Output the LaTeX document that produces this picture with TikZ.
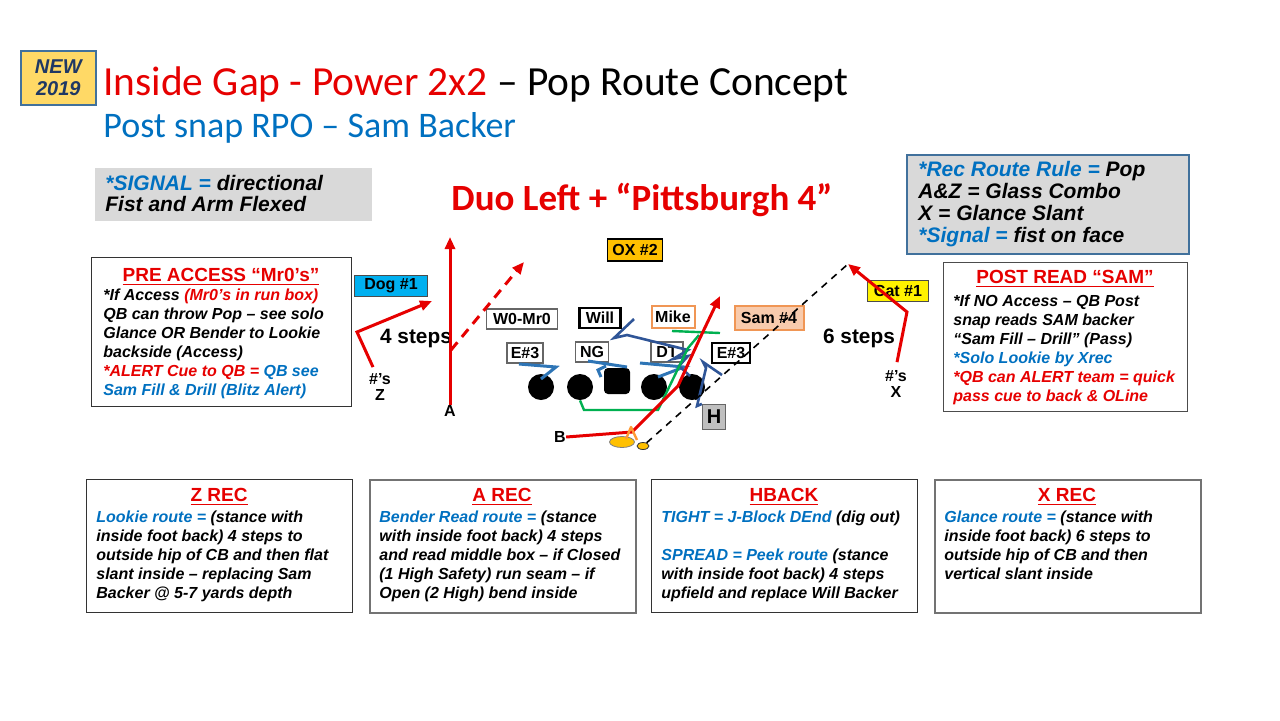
\documentclass[tikz,border=0pt]{standalone}
\usepackage{fontspec}
\setmainfont{Liberation Sans}
\newfontfamily\calibri{Carlito}
\usetikzlibrary{arrows.meta,positioning,shapes.geometric}

\definecolor{playred}{RGB}{230,0,0}
\definecolor{noteblue}{RGB}{0,112,192}
\definecolor{boxgray}{RGB}{217,217,217}
\definecolor{navy}{RGB}{31,56,100}
\definecolor{newgold}{RGB}{255,217,102}
\definecolor{steel}{RGB}{65,113,156}
\definecolor{blockblue}{RGB}{46,117,182}
\definecolor{zigblue}{RGB}{47,85,151}
\definecolor{pullgreen}{RGB}{0,176,80}
\definecolor{oxgold}{RGB}{255,192,0}
\definecolor{dogblue}{RGB}{0,176,240}
\definecolor{samorange}{RGB}{240,150,85}
\definecolor{samfill}{RGB}{248,203,173}

\tikzset{
  tag/.style={draw=black!60, line width=0.6pt, inner sep=0pt, font=\fontsize{8}{9}\selectfont\bfseries},
  lineman/.style={circle, fill=black, minimum size=13pt, inner sep=0pt},
  route/.style={draw=playred, line width=1.5pt, -{Triangle[length=6pt,width=5pt]}},
  blockmark/.style={draw=blockblue, line width=1.5pt},
  zigmark/.style={draw=zigblue, line width=1.3pt},
  notebox/.style={draw=black!80, line width=0.6pt, anchor=north west, inner sep=0pt, minimum width=133pt, minimum height=66.5pt},
  notetitle/.style={anchor=base, inner sep=0pt, text=playred, font=\fontsize{9.5}{11}\selectfont\bfseries},
  notebody/.style={anchor=north west, inner sep=0pt, align=left, font=\fontsize{8}{9.5}\selectfont\bfseries\itshape},
  tiplabel/.style={inner sep=0pt, align=center, font=\fontsize{8}{8}\selectfont\bfseries}
}

\begin{document}
\begin{tikzpicture}[x=0.5pt, y=-0.5pt]
\useasboundingbox (0,0) rectangle (1280,720);

% heading
\node[draw=steel, line width=0.8pt, fill=newgold, minimum width=37.5pt, minimum height=27pt, anchor=north west, inner sep=0pt,
  align=center, text=navy, font=\fontsize{10}{11}\selectfont\bfseries\itshape] (new) at (20,50) {NEW\\2019};
\node[anchor=base west, inner sep=0pt, font=\calibri\fontsize{20.7}{25}\selectfont] (title) at (103,95)
  {\textcolor{playred}{Inside Gap - Power 2x2} – Pop Route Concept};
\node[anchor=base west, inner sep=0pt, text=noteblue, font=\calibri\fontsize{18}{22}\selectfont] (subtitle) at (103,137)
  {Post snap RPO – Sam Backer};
\node[anchor=base, inner sep=0pt, text=playred, font=\calibri\bfseries\fontsize{18.5}{22}\selectfont] (call) at (642,210)
  {Duo Left + “Pittsburgh 4”};

% signal notes
\node[fill=boxgray, anchor=north west, inner sep=0pt, minimum width=138.5pt, minimum height=26.5pt] (signalbox) at (95,168) {};
\node[anchor=north west, inner sep=0pt, align=left, font=\fontsize{10.5}{10.5}\selectfont\bfseries\itshape] (signal) at (105,175)
  {\textcolor{noteblue}{*SIGNAL =} directional\\Fist and Arm Flexed};
\node[fill=boxgray, draw=steel, line width=0.8pt, anchor=north west, inner sep=0pt, minimum width=141pt, minimum height=49.5pt] (rulebox) at (906,154) {};
\node[anchor=north west, inner sep=0pt, align=left, font=\fontsize{10.5}{11}\selectfont\bfseries\itshape] (rule) at (918,161)
  {\textcolor{noteblue}{*Rec Route Rule =} Pop\\A\&Z = Glass Combo\\X = Glance Slant\\\textcolor{noteblue}{*Signal =} fist on face};

% pre / post read
\node[notebox, minimum width=130pt, minimum height=74.5pt] (prebox) at (91,257) {};
\node[notetitle] (pretitle) at (221,281) {\underline{PRE ACCESS “Mr0’s”}};
\node[notebody] (pre) at (103,288)
  {*If Access \textcolor{playred}{(Mr0’s in run box)}\\QB can throw Pop – see solo\\Glance OR Bender to Lookie\\backside (Access)\\
   \textcolor{playred}{*ALERT Cue to QB =} \textcolor{noteblue}{QB see}\\\textcolor{noteblue}{Sam Fill \& Drill (Blitz Alert)}};
\node[notebox, draw=black!70, minimum width=122pt, minimum height=74.5pt] (postbox) at (943,262) {};
\node[notetitle] (posttitle) at (1065,283) {\underline{POST READ “SAM”}};
\node[notebody] (post) at (953,294)
  {*If NO Access – QB Post\\snap reads SAM backer\\“Sam Fill – Drill” (Pass)\\\textcolor{noteblue}{*Solo Lookie by Xrec}\\
   \textcolor{playred}{*QB can ALERT team = quick}\\\textcolor{playred}{pass cue to back \& OLine}};

% defense
\node[tag, fill=oxgold, draw=black, minimum width=27.5pt, minimum height=11pt] (ox) at (635,250) {OX \#2};
\node[tag, fill=dogblue, draw=black!70, minimum width=36.5pt, minimum height=10.5pt] (dog) at (391,286) {Dog \#1\hspace{7pt}};
\node[tag, fill=yellow, draw=black!70, minimum width=30.5pt, minimum height=10.5pt] (cat) at (898,291) {Cat \#1};
\node[tag, fill=white, minimum width=35.5pt, minimum height=10pt] (wmr) at (522,319) {W0-Mr0};
\node[tag, draw=black, line width=1.2pt, fill=white, minimum width=20.5pt, minimum height=10pt] (will) at (600,318) {Will};
\node[tag, draw=samorange, line width=1pt, fill=white, minimum width=21.5pt, minimum height=11pt] (mike) at (673,317) {Mike};
\node[tag, draw=samorange, line width=1pt, fill=samfill, minimum width=34.5pt, minimum height=12pt] (sam) at (769,318) {Sam \#4};
\node[tag, fill=white, minimum width=18pt, minimum height=10pt] (endl) at (525,353) {E\#3};
\node[tag, fill=white, minimum width=16.5pt, minimum height=10pt] (ng) at (592,352) {NG};
\node[tag, fill=white, minimum width=16pt, minimum height=10pt] (dt) at (667,352) {DT};
\node[tag, draw=black, fill=white, minimum width=19pt, minimum height=10pt] (endr) at (731,353) {E\#3};

% offense
\node[lineman] (lt) at (541,387) {};
\node[lineman] (lg) at (580,387) {};
\node[fill=black, rounded corners=2pt, minimum size=13pt, inner sep=0pt] (ctr) at (617,381) {};
\node[lineman] (rg) at (654,387) {};
\node[lineman] (rt) at (692,387) {};
\node[tag, fill=black!25, minimum width=11.5pt, minimum height=12.5pt, font=\fontsize{10}{12}\selectfont\bfseries] (hback) at (714,417) {H};
\node[ellipse, fill=oxgold, draw=black!50, minimum width=12.5pt, minimum height=5.5pt, inner sep=0pt] (qb) at (622,442) {};
\node[ellipse, fill=oxgold, draw=black!80, minimum width=6pt, minimum height=3.5pt, inner sep=0pt] (ball) at (643,446) {};

\node[tiplabel] (zrec) at (380,387) {\#’s\\Z};
\node[tiplabel] (xrec) at (896,384) {\#’s\\X};
\node[tiplabel] (arec) at (450,411) {A};
\node[tiplabel] (bback) at (560,437) {B};
\node[font=\fontsize{10.4}{12}\selectfont\bfseries] (fourst) at (416,338) {4 steps};
\node[font=\fontsize{10.4}{12}\selectfont\bfseries] (sixst) at (859,338) {6 steps};

% blocks
\draw[blockmark] (519,364) -- (556,367) -- (541,379);
\draw[blockmark] (588,361) -- (627,367) (606,366) -- (598,370) -- (601,377);
\draw[blockmark] (640,363) -- (684,367) -- (658,377);
\draw[zigmark] (634,319) -- (614,338) -- (627,335) -- (688,350) -- (673,359) -- (688,356) -- (679,366) -- (690,376);
\draw[zigmark] (hback.north west) -- (697,406) -- (706,368) -- (703,362) -- (722,375);
\draw[pullgreen, line width=1.2pt] (lg.south) -- (584,410) -- (658,410) -- (688,348) -- (699,335);
\draw[pullgreen, line width=1.2pt] (672,331) -- (720,333);

% routes
\coordinate (zbreak) at (357,332);
\coordinate (zend) at (432,301);
\coordinate (atop) at (450,237);
\coordinate (asplit) at (451,350);
\coordinate (aend) at (524,262);
\coordinate (xbreak) at (907,312);
\coordinate (xcatch) at (848,264);
\coordinate (bend) at (720,296);
\draw[route] ([shift={(-7,-6)}]zrec.north) -- (zbreak) -- (zend);
\draw[route] (arec.north) -- (atop);
\draw[route, dash pattern=on 5pt off 3.5pt] (asplit) -- (aend);
\draw[route] ([shift={(1,-8)}]xrec.north) -- (xbreak) -- (xcatch);
\draw[route] (bback.east) -- (632,432) -- (678,386) -- (700,338) -- (bend);
\draw[orange!80, line width=1.2pt, line join=round] (626,439) -- (631,427) -- (637,440);
\draw[black, line width=0.8pt, dash pattern=on 3.5pt off 3pt] (ball) -- (xcatch);

% receiver notes
\node[notebox] (zbox) at (86,479) {};
\node[notetitle] (ztitle) at (219,501) {\underline{Z REC}};
\node[notebody] (zbody) at (96,510)
  {\textcolor{noteblue}{Lookie route =} (stance with\\inside foot back) 4 steps to\\outside hip of CB and then flat\\slant inside – replacing Sam\\Backer @ 5-7 yards depth};
\node[notebox, draw=black!55, line width=1pt] (abox) at (369,479) {};
\node[notetitle] (atitle) at (502,501) {\underline{A REC}};
\node[notebody] (abody) at (379,510)
  {\textcolor{noteblue}{Bender Read route =} (stance\\with inside foot back) 4 steps\\and read middle box – if Closed\\(1 High Safety) run seam – if\\Open (2 High) bend inside};
\node[notebox] (hbox) at (651,479) {};
\node[notetitle] (htitle) at (784,501) {\underline{HBACK}};
\node[notebody] (hbody) at (661,510)
  {\textcolor{noteblue}{TIGHT = J-Block DEnd} (dig out)\\[9.5pt]\textcolor{noteblue}{SPREAD = Peek route} (stance\\with inside foot back) 4 steps\\upfield and replace Will Backer};
\node[notebox, draw=black!55, line width=1pt] (xbox) at (934,479) {};
\node[notetitle] (xtitle) at (1067,501) {\underline{X REC}};
\node[notebody] (xbody) at (944,510)
  {\textcolor{noteblue}{Glance route =} (stance with\\inside foot back) 6 steps to\\outside hip of CB and then\\vertical slant inside};

\end{tikzpicture}
\end{document}
